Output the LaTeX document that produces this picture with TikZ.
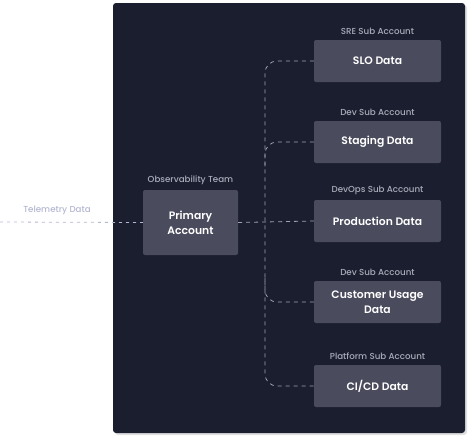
\documentclass[tikz,border=0pt]{standalone}
\usepackage{fontspec}
\setmainfont{Poppins}
\newfontfamily\boxfont{Poppins SemiBold}
\newfontfamily\labelfont{Poppins Medium}
\usetikzlibrary{positioning}

\definecolor{panelbg}{HTML}{1B1E2F}
\definecolor{boxfill}{HTML}{4A4C5E}
\definecolor{labelgray}{HTML}{A9ACB9}
\definecolor{linegray}{HTML}{A0A2B0}
\definecolor{telecol}{HTML}{B4B7D2}

\tikzset{
  databox/.style={fill=boxfill, rounded corners=2pt, minimum width=127pt, minimum height=42pt,
    text=white, font=\boxfont\fontsize{10.8}{15}\selectfont, align=center},
  acclabel/.style={text=labelgray, font=\labelfont\fontsize{8.7}{10}\selectfont},
  link/.style={linegray, line width=0.8pt, dash pattern=on 4pt off 4pt, rounded corners=12pt},
  telelink/.style={telecol, line width=0.8pt, dash pattern=on 3pt off 4pt}
}

\begin{document}
\begin{tikzpicture}[x=1pt, y=-1pt]
  \useasboundingbox (0,0) rectangle (474,440);

  % Panel
  \fill[black!12, rounded corners=3pt] (115,5) rectangle (467,435);
  \fill[panelbg, rounded corners=3pt] (113,3) rectangle (465,433);

  % Primary account
  \node[databox, minimum width=95pt, minimum height=65pt] (primary) at (190.5,222.5) {Primary\\Account};
  \node[acclabel, above=1.5pt of primary] (obsteam) {Observability Team};

  % Sub accounts
  \node[databox] (slo) at (377.5,61) {SLO Data};
  \node[databox] (staging) at (377.5,142) {Staging Data};
  \node[databox] (prod) at (377.5,221) {Production Data};
  \node[databox] (cust) at (377.5,302) {Customer Usage\\Data};
  \node[databox] (cicd) at (377.5,386) {CI/CD Data};

  \node[acclabel, above=1.5pt of slo] (sre) {SRE Sub Account};
  \node[acclabel, above=1.5pt of staging] (dev1) {Dev Sub Account};
  \node[acclabel, above=1.5pt of prod] (devops) {DevOps Sub Account};
  \node[acclabel, above=1.5pt of cust] (dev2) {Dev Sub Account};
  \node[acclabel, above=1.5pt of cicd] (platform) {Platform Sub Account};

  % Telemetry input
  \coordinate (tele) at (0,222);
  \node[text=telecol, font=\labelfont\fontsize{8.7}{10}\selectfont] (telelabel) at (57,210) {Telemetry Data};
  \draw[telelink] (tele) -- (primary.west);

  % Links
  \coordinate (hub) at (265,222);
  \coordinate (stagingend) at (265,170);
  \coordinate (custend) at (265,274);
  \draw[link] (primary.east) -- (prod.west);
  \draw[link] (slo.west) -| (hub) |- (cicd.west);
  \draw[link] (staging.west) -| (stagingend);
  \draw[link] (cust.west) -| (custend);
\end{tikzpicture}
\end{document}
